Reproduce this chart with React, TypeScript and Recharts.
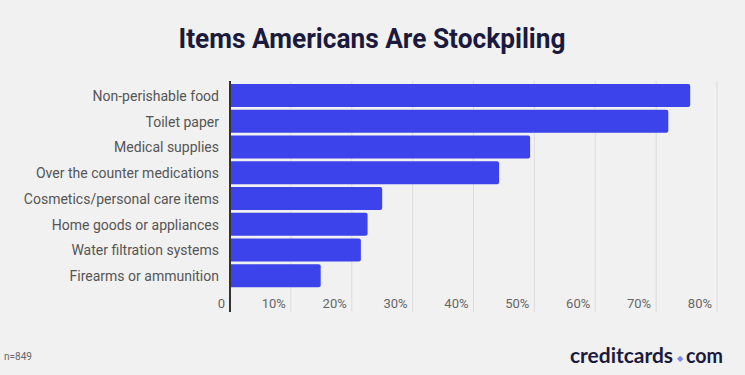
import React from "react";
import { Bar, BarChart, CartesianGrid, XAxis, YAxis } from "recharts";

const categories = [
  "Non-perishable food",
  "Toilet paper",
  "Medical supplies",
  "Over the counter medications",
  "Cosmetics/personal care items",
  "Home goods or appliances",
  "Water filtration systems",
  "Firearms or ammunition",
];
const shares = [75.6, 72, 49.3, 44.2, 25, 22.6, 21.5, 14.9];
const xTicks = [0, 10, 20, 30, 40, 50, 60, 70, 80];

const data = categories.map((name, i) => ({ name, share: shares[i] }));

const XTick = (props: any) => {
  const { x, y, payload } = props;
  const v = payload.value;
  return (
    <text x={x - 5} y={y - 4} textAnchor="end" fill="#666" fontSize={13} fontFamily="Roboto">
      {v === 0 ? "0" : `${v}%`}
    </text>
  );
};

const App = () => {
  return (
    <div
      style={{
        position: "absolute",
        top: 0,
        left: 0,
        width: 745,
        height: 375,
        background: "#f1f1f1",
        overflow: "hidden",
      }}
    >
      <svg width={745} height={375} style={{ position: "absolute", top: 0, left: 0 }}>
        <text
          x={372}
          y={48}
          textAnchor="middle"
          fontFamily="Roboto"
          fontWeight={700}
          fontSize={27}
          fill="#1b1a3d"
          textLength={387}
          lengthAdjust="spacingAndGlyphs"
        >
          Items Americans Are Stockpiling
        </text>
        <text x={4} y={360} fontFamily="Roboto" fontSize={10} fill="#666">
          n=849
        </text>
        {/* logo */}
        <text
          x={570}
          y={363}
          fontFamily="Lato"
          fontWeight={700}
          fontSize={21}
          fill="#1b1a3d"
          textLength={103}
          lengthAdjust="spacingAndGlyphs"
        >
          creditcards
        </text>
        <text x={680} y={361} textAnchor="middle" fontFamily="DejaVu Sans" fontSize={8} fill="#7a88f0">
          ◆
        </text>
        <text
          x={686}
          y={363}
          fontFamily="Lato"
          fontWeight={700}
          fontSize={21}
          fill="#1b1a3d"
          textLength={37}
          lengthAdjust="spacingAndGlyphs"
        >
          com
        </text>
      </svg>
      <div style={{ position: "absolute", top: 0, left: 0 }}>
        <BarChart
          width={745}
          height={375}
          data={data}
          layout="vertical"
          margin={{ top: 81, right: 28, left: 0, bottom: 62 }}
        >
          <CartesianGrid horizontal={false} stroke="#dcdcdc" />
          <XAxis
            type="number"
            domain={[0, 80]}
            ticks={xTicks}
            axisLine={false}
            tickLine={false}
            tickSize={0}
            tickMargin={0}
            height={1}
            tick={<XTick />}
            interval={0}
          />
          <YAxis
            type="category"
            dataKey="name"
            width={230}
            padding={{ top: 2, bottom: 23 }}
            axisLine={{ stroke: "#333", strokeWidth: 2 }}
            tickLine={false}
            tickSize={0}
            tickMargin={11}
            tick={{ fill: "#555", fontSize: 14, fontFamily: "Roboto" }}
            interval={0}
          />
          <Bar
            dataKey="share"
            fill="#3d43ea"
            barSize={23}
            radius={[0, 2, 2, 0]}
            isAnimationActive={false}
          />
        </BarChart>
      </div>
    </div>
  );
};

export default App;
